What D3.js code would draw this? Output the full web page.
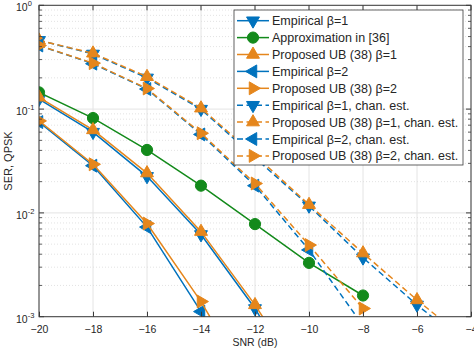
<!DOCTYPE html>
<html><head><meta charset="utf-8">
<script src="https://cdn.jsdelivr.net/npm/d3@7"></script>
<style>body{margin:0;background:#fff} text{font-family:"Liberation Sans",Arial,Helvetica,sans-serif;fill:#262626}</style>
</head><body><svg id="c" width="474" height="351"></svg>
<script>
// ---- data ----
const snr = [-20, -18, -16, -14, -12, -10, -8, -6, -4];
const xTicks = [-20, -18, -16, -14, -12, -10, -8, -6, -4];
const yTicks = [1e-3, 1e-2, 1e-1, 1];
const yTickExp = ["-3", "-2", "-1", "0"];
const legendNames = [
  "Empirical β=1",
  "Approximation in [36]",
  "Proposed UB (38) β=1",
  "Empirical β=2",
  "Proposed UB (38) β=2",
  "Empirical β=1, chan. est.",
  "Proposed UB (38) β=1, chan. est.",
  "Empirical β=2, chan. est.",
  "Proposed UB (38) β=2, chan. est."
];
const empB1    = [0.125, 0.060, 0.0225, 0.0062, 0.0012, 1.6e-4];
const approx36 = [0.145, 0.082, 0.0404, 0.0183, 0.0078, 0.0033, 0.0016];
const ubB1     = [0.130, 0.063, 0.0242, 0.0066, 0.0013, 2.0e-4];
const empB2    = [0.075, 0.0285, 0.0073, 0.00112, 1.4e-4];
const ubB2     = [0.077, 0.0294, 0.0079, 0.0014, 1.8e-4];
const empB1ce  = [0.46, 0.34, 0.200, 0.100, 0.034, 0.0117, 0.0037, 0.0013, 5.0e-4];
const ubB1ce   = [0.46, 0.345, 0.205, 0.102, 0.036, 0.0120, 0.0041, 0.00145, 5.5e-4];
const empB2ce  = [0.41, 0.274, 0.156, 0.057, 0.0183, 0.0044, 8.2e-4];
const ubB2ce   = [0.41, 0.277, 0.158, 0.0585, 0.0192, 0.0049, 0.0012];

const BLUE = "#0072BD", ORANGE = "#E5861C", GREEN = "#138A1B";
const series = [
  {y: empB1,    color: BLUE,   marker: "down",   dash: null},
  {y: approx36, color: GREEN,  marker: "circle", dash: null},
  {y: ubB1,     color: ORANGE, marker: "up",     dash: null},
  {y: empB2,    color: BLUE,   marker: "left",   dash: null},
  {y: ubB2,     color: ORANGE, marker: "right",  dash: null},
  {y: empB1ce,  color: BLUE,   marker: "down",   dash: "6,3.5"},
  {y: ubB1ce,   color: ORANGE, marker: "up",     dash: "6,3.5"},
  {y: empB2ce,  color: BLUE,   marker: "left",   dash: "6,3.5"},
  {y: ubB2ce,   color: ORANGE, marker: "right",  dash: "6,3.5"}
];
series.forEach((s, i) => s.name = legendNames[i]);

// ---- layout ----
const L = 39, R = 471, T = 5.3, B = 316.7;
const svg = d3.select("#c");
const x = d3.scaleLinear().domain([-20, -4]).range([L, R]);
const y = d3.scaleLog().domain([1e-3, 1]).range([B, T]);

// grid
const g = svg.append("g");
xTicks.forEach(v => g.append("line").attr("x1", x(v)).attr("x2", x(v)).attr("y1", T).attr("y2", B)
  .attr("stroke", "#e4e4e4").attr("stroke-width", 1));
const minor = [];
for (let e = -3; e < 0; e++) for (let m = 2; m <= 9; m++) minor.push(m * Math.pow(10, e));
minor.forEach(v => g.append("line").attr("x1", L).attr("x2", R).attr("y1", y(v)).attr("y2", y(v))
  .attr("stroke", "#dcdcdc").attr("stroke-width", 0.8).attr("stroke-dasharray", "1,2"));
yTicks.forEach(v => g.append("line").attr("x1", L).attr("x2", R).attr("y1", y(v)).attr("y2", y(v))
  .attr("stroke", "#e4e4e4").attr("stroke-width", 1));

// clip
svg.append("clipPath").attr("id", "clip").append("rect")
  .attr("x", L).attr("y", T).attr("width", R - L).attr("height", B - T);
const plot = svg.append("g").attr("clip-path", "url(#clip)");

function markerPath(type, size) {
  const tri = d3.symbol(d3.symbolTriangle, size)();
  return tri;
}
const rot = {up: 0, down: 180, left: -90, right: 90};

function drawMarker(sel, type, color, cx, cy) {
  if (type === "circle") {
    sel.append("circle").attr("cx", cx).attr("cy", cy).attr("r", 5.6)
      .attr("fill", color).attr("stroke", color);
  } else {
    sel.append("path").attr("d", d3.symbol(d3.symbolTriangle, 72)())
      .attr("transform", `translate(${cx},${cy}) rotate(${rot[type]})`)
      .attr("fill", color).attr("stroke", color).attr("stroke-width", 1);
  }
}

const line = d3.line().x(d => x(d[0])).y(d => y(d[1]));
series.forEach(s => {
  const pts = s.y.map((v, i) => [snr[i], v]);
  plot.append("path").datum(pts).attr("d", line).attr("fill", "none")
    .attr("stroke", s.color).attr("stroke-width", 1.5)
    .attr("stroke-dasharray", s.dash);
  pts.forEach(p => drawMarker(plot, s.marker, s.color, x(p[0]), y(p[1])));
});

// axes box
svg.append("rect").attr("x", L).attr("y", T).attr("width", R - L).attr("height", B - T)
  .attr("fill", "none").attr("stroke", "#3a3a3a").attr("stroke-width", 1);

// x ticks
const xa = svg.append("g").attr("transform", `translate(0,${B})`)
  .call(d3.axisBottom(x).tickValues(xTicks).tickSize(-5).tickPadding(9).tickFormat(d3.format("d")));
xa.select(".domain").remove();
xa.selectAll("line").attr("stroke", "#3a3a3a");
xa.selectAll("text").attr("font-size", 10.5).style("font-family", "Liberation Sans, Arial, sans-serif").attr("fill", "#262626");
// top ticks
xTicks.forEach(v => svg.append("line").attr("x1", x(v)).attr("x2", x(v)).attr("y1", T).attr("y2", T + 5).attr("stroke", "#3a3a3a"));
// y ticks both sides
yTicks.forEach(v => {
  svg.append("line").attr("x1", L).attr("x2", L + 5).attr("y1", y(v)).attr("y2", y(v)).attr("stroke", "#3a3a3a");
  svg.append("line").attr("x1", R - 5).attr("x2", R).attr("y1", y(v)).attr("y2", y(v)).attr("stroke", "#3a3a3a");
});
minor.forEach(v => {
  svg.append("line").attr("x1", L).attr("x2", L + 3).attr("y1", y(v)).attr("y2", y(v)).attr("stroke", "#3a3a3a").attr("stroke-width", 0.8);
  svg.append("line").attr("x1", R - 3).attr("x2", R).attr("y1", y(v)).attr("y2", y(v)).attr("stroke", "#3a3a3a").attr("stroke-width", 0.8);
});
// y tick labels
yTicks.forEach((v, i) => {
  const t = svg.append("text").attr("x", 16).attr("y", y(v) + 6).attr("font-size", 10.5);
  t.append("tspan").text("10");
  t.append("tspan").attr("dy", -5).attr("font-size", 7.5).text(yTickExp[i]);
});

// axis labels
svg.append("text").attr("x", (L + R) / 2).attr("y", 346).attr("text-anchor", "middle")
  .attr("font-size", 10.5).text("SNR (dB)");
svg.append("text").attr("transform", `translate(12,${(T + B) / 2}) rotate(-90)`)
  .attr("text-anchor", "middle").attr("font-size", 11).text("SER, QPSK");

// legend
const lg = svg.append("g");
lg.append("rect").attr("x", 234).attr("y", 10).attr("width", 229).attr("height", 155)
  .attr("fill", "#fff").attr("stroke", "#3a3a3a").attr("stroke-width", 0.8);
series.forEach((s, i) => {
  const cy = 20.7 + i * 16.9;
  lg.append("line").attr("x1", 237).attr("x2", 269).attr("y1", cy).attr("y2", cy)
    .attr("stroke", s.color).attr("stroke-width", 1.5).attr("stroke-dasharray", s.dash);
  drawMarker(lg, s.marker, s.color, 253, cy);
  lg.append("text").attr("x", 272).attr("y", cy).attr("dy", "0.36em").attr("font-size", 12.5).text(s.name);
});
</script></body></html>
